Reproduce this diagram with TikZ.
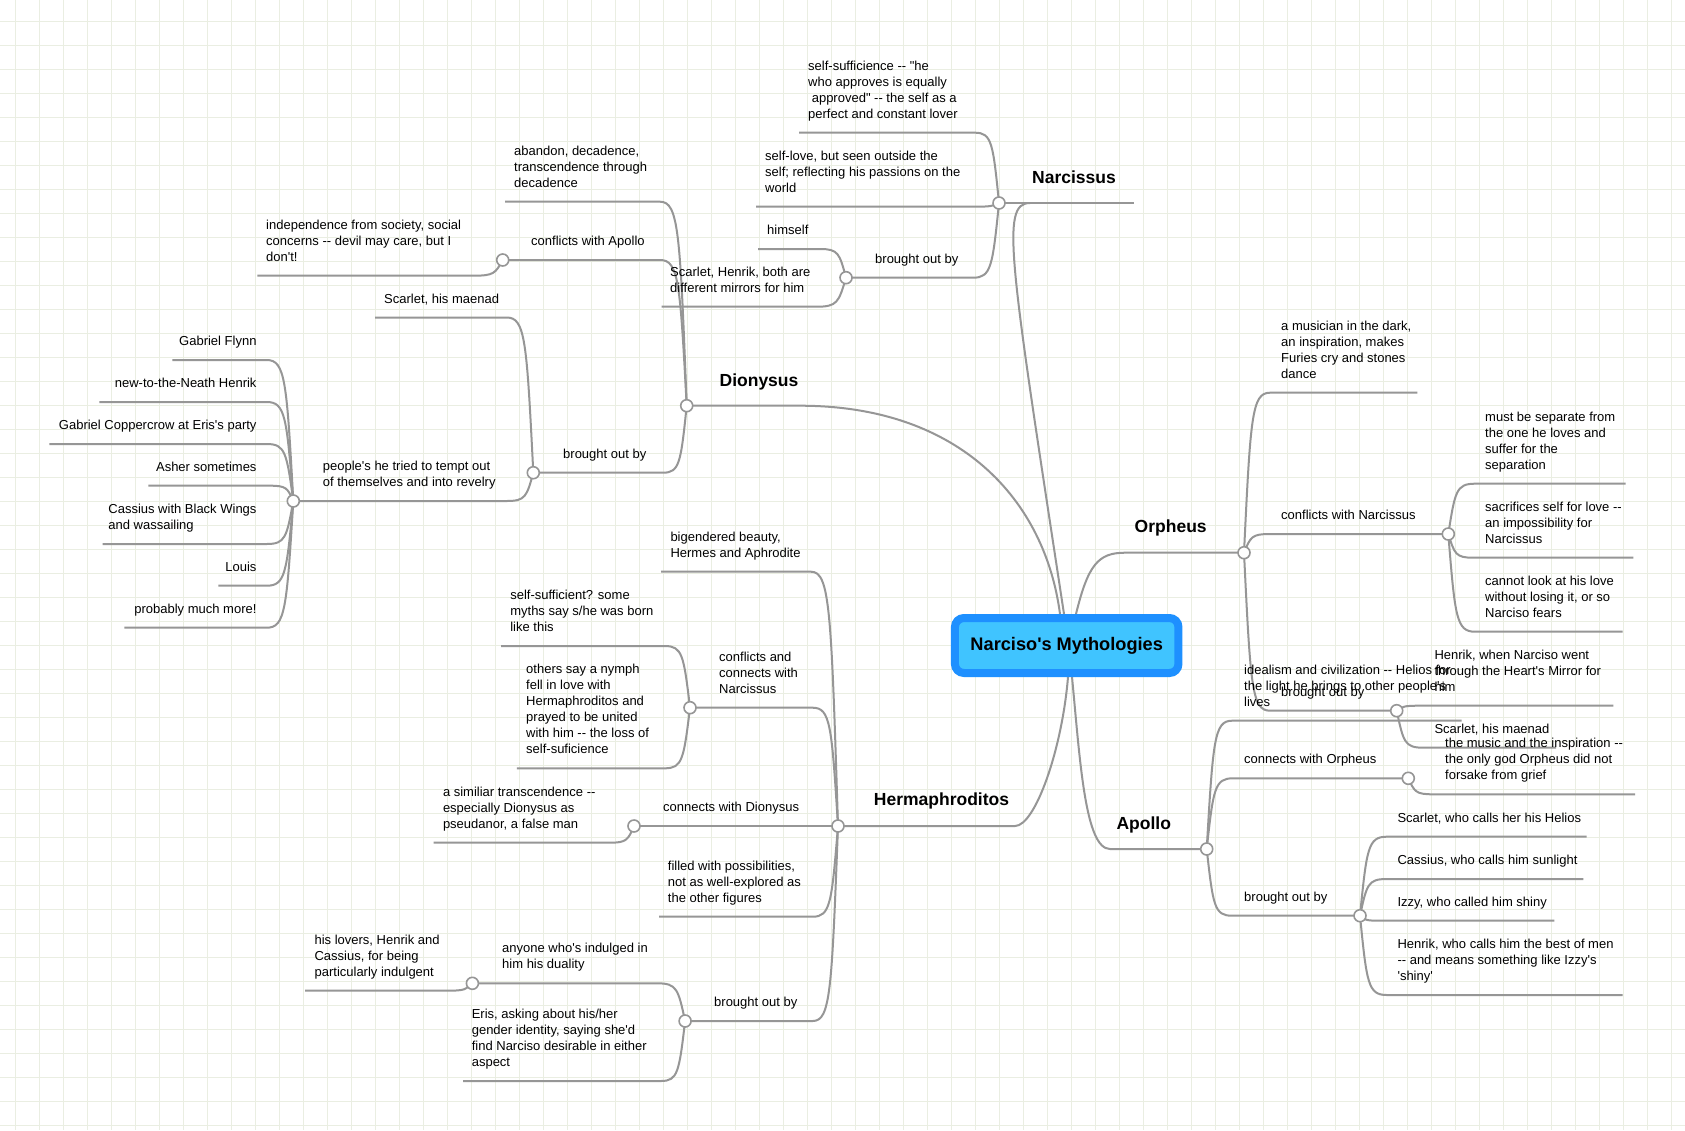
\documentclass[tikz,border=0pt]{standalone}
\usepackage{fontspec}
\newfontfamily\bodyf{Liberation Sans}
\usetikzlibrary{calc}
\definecolor{gridc}{RGB}{234,238,226}
\definecolor{lc}{RGB}{150,150,150}
\definecolor{cOut}{RGB}{30,144,255}
\definecolor{cIn}{RGB}{64,196,255}
\newcommand\fs{\bodyf\fontsize{13}{16}\selectfont}
\newcommand\tfont{\bodyf\bfseries\fontsize{17.5}{20}\selectfont}
\newcommand\cfont{\bodyf\bfseries\fontsize{18.2}{22}\selectfont}
\newcommand\Tx[4]{\node[tx] (#1) at (#2,#3) {\begin{tabular}[t]{@{}l@{}}#4\end{tabular}};}
\newcommand\Tr[4]{\node[txr] (#1) at (#2,#3) {\begin{tabular}[t]{@{}l@{}}#4\end{tabular}};}
\newcommand\Cn[4]{\draw[ln] (#1) to[br] (#2,#3) -- (#4);}
\tikzset{
  ln/.style={draw=lc, line width=2pt},
  br/.style={to path={let \p1=(\tikztostart), \p2=(\tikztotarget) in
     .. controls ({\x1+0.25*(\x2-\x1)},{\y2-0.15*(\y2-\y1)}) and ({\x1+0.3*(\x2-\x1)},\y2) .. (\tikztotarget)}},
  dot/.style={circle, draw=lc, fill=white, line width=1.6pt, minimum size=12pt, inner sep=0pt},
  tx/.style={anchor=base west, inner sep=0pt, font=\fs},
  txr/.style={anchor=base east, inner sep=0pt, font=\fs},
  ttl/.style={anchor=base, inner sep=0pt, font=\tfont},
}
\begin{document}
\begin{tikzpicture}[x=1pt,y=-1pt]
\useasboundingbox[fill=white] (0,0) rectangle (1685,1130);
\foreach \gx in {15,39,...,1685} \draw[gridc, line width=1pt] (\gx,0) -- (\gx,1130);
\foreach \gy in {21,45,...,1130} \draw[gridc, line width=1pt] (0,\gy) -- (1685,\gy);

% hubs
\coordinate (N) at (999,203);
\coordinate (NB) at (846,277.7);
\coordinate (D) at (686.7,405.7);
\coordinate (CA) at (502.7,260);
\coordinate (B) at (533.3,472.7);
\coordinate (P) at (293.3,501);
\coordinate (H) at (838,826);
\coordinate (C) at (690,707.7);
\coordinate (CD) at (634,826);
\coordinate (BB) at (685.1,1021);
\coordinate (A) at (472.4,983.3);
\coordinate (O) at (1244,552.7);
\coordinate (CN) at (1448.3,534);
\coordinate (OB) at (1396.7,710.7);
\coordinate (AP) at (1206.7,849);
\coordinate (CO) at (1408.3,778.3);
\coordinate (AB) at (1360,915.7);
\coordinate (rtN) at (1064,614);
\coordinate (rtD) at (1060,614);
\coordinate (rtO) at (1076,614);
\coordinate (rbH) at (1068,677);
\coordinate (rbA) at (1072,677);
\coordinate (NEnd) at (1134,203);

% main branches
\draw[ln] (rtN) .. controls (1010,260) and (1000,203) .. (1030,203);
\draw[ln] (N) -- (NEnd);
\draw[ln] (rtD) .. controls (1045,500) and (960,405.7) .. (800,405.7) -- (D);
\draw[ln] (rtO) .. controls (1088,565) and (1098,552.7) .. (1125,552.7) -- (O);
\draw[ln] (rbH) .. controls (1062,750) and (1035,826) .. (1015,826) -- (H);
\draw[ln] (rbA) .. controls (1080,760) and (1085,849) .. (1110,849) -- (AP);

% Narcissus
\coordinate (n1) at (799,132.7); \Cn{N}{975}{132.7}{n1}
\coordinate (n2) at (756,206.7); \Cn{N}{973}{206.7}{n2}
\Cn{N}{973}{277.7}{NB}
\coordinate (nb1) at (758,249); \Cn{NB}{820}{249}{nb1}
\coordinate (nb2) at (661.7,306.7); \Cn{NB}{816.7}{306.7}{nb2}

% Dionysus
\coordinate (d1) at (505,201.7); \Cn{D}{660}{201.7}{d1}
\Cn{D}{660}{260}{CA}
\Cn{D}{663}{472.7}{B}
\coordinate (ca1) at (257.3,275.7); \Cn{CA}{473.3}{275.7}{ca1}
\coordinate (b1) at (375,317.5); \Cn{B}{506.7}{317.5}{b1}
\Cn{B}{506.7}{501}{P}
\coordinate (p1) at (172.3,360); \Cn{P}{266.7}{360}{p1}
\coordinate (p2) at (99.3,402); \Cn{P}{266.7}{402}{p2}
\coordinate (p3) at (49.3,444); \Cn{P}{266.7}{444}{p3}
\coordinate (p4) at (148.3,485.7); \Cn{P}{270}{485.7}{p4}
\coordinate (p5) at (102.7,544); \Cn{P}{266.7}{544}{p5}
\coordinate (p6) at (218.3,585.7); \Cn{P}{266.7}{585.7}{p6}
\coordinate (p7) at (124.3,627.7); \Cn{P}{266.7}{627.7}{p7}

% Hermaphroditos
\coordinate (h1) at (661,571.7); \Cn{H}{811}{571.7}{h1}
\Cn{H}{812.7}{707.7}{C}
\draw[ln] (H) -- (CD);
\coordinate (h2) at (659.2,916.7); \Cn{H}{812.7}{916.7}{h2}
\Cn{H}{812.7}{1021}{BB}
\coordinate (c1) at (501.2,646); \Cn{C}{664.8}{646}{c1}
\coordinate (c2) at (516.8,768.3); \Cn{C}{664.8}{768.3}{c2}
\coordinate (cd1) at (433.5,842.7); \Cn{CD}{609.3}{842.7}{cd1}
\Cn{BB}{657.4}{983.3}{A}
\coordinate (bb1) at (463.1,1081); \Cn{BB}{661}{1081}{bb1}
\coordinate (a1) at (305.2,990.7); \Cn{A}{446.5}{990.7}{a1}

% Orpheus
\coordinate (o1) at (1417.3,392.7); \Cn{O}{1270}{392.7}{o1}
\Cn{O}{1270}{534}{CN}
\Cn{O}{1270}{710.7}{OB}
\coordinate (cn1) at (1625.7,483.7); \Cn{CN}{1475}{483.7}{cn1}
\coordinate (cn2) at (1633.3,557.7); \Cn{CN}{1473.3}{557.7}{cn2}
\coordinate (cn3) at (1622.7,631.7); \Cn{CN}{1475}{631.7}{cn3}
\coordinate (ob1) at (1613.3,705.7); \Cn{OB}{1420}{705.7}{ob1}
\coordinate (ob2) at (1556,747.7); \Cn{OB}{1423.3}{747.7}{ob2}

% Apollo
\coordinate (ap1) at (1461.7,720.7); \Cn{AP}{1232}{720.7}{ap1}
\Cn{AP}{1233}{778.3}{CO}
\Cn{AP}{1232}{915.7}{AB}
\coordinate (co1) at (1635,794.3); \Cn{CO}{1433.3}{794.3}{co1}
\coordinate (ab1) at (1586.7,836.7); \Cn{AB}{1386.7}{836.7}{ab1}
\coordinate (ab2) at (1583.3,879); \Cn{AB}{1386.7}{879}{ab2}
\coordinate (ab3) at (1554.3,920.7); \Cn{AB}{1380}{920.7}{ab3}
\coordinate (ab4) at (1622.6,995); \Cn{AB}{1386.7}{995}{ab4}

% connector dots
\foreach \c in {N,NB,D,CA,B,P,H,C,CD,BB,A,O,CN,OB,AP,CO,AB} \node[dot] (\c-dot) at (\c) {};

% central topic
\node[draw=cOut, fill=cIn, line width=8pt, rounded corners=9pt, minimum width=223.5pt, minimum height=55pt, inner sep=0pt, font=\cfont] (root) at (1066.7,645.5) {Narciso's Mythologies};

% titles
\node[ttl] (tN) at (1074,183) {Narcissus};
\node[ttl] (tD) at (759,386) {Dionysus};
\node[ttl] (tO) at (1170.7,532.7) {Orpheus};
\node[ttl] (tA) at (1143.7,829) {Apollo};
\node[ttl] (tH) at (941.5,805.5) {Hermaphroditos};

% Narcissus texts
\Tx{xn1}{808}{70.2}{self-sufficience -{}- "he\\who approves is equally\\\hspace*{3.6pt}approved" -{}- the self as a\\perfect and constant lover}
\Tx{xn2}{765}{160.2}{self-love, but seen outside the\\self; reflecting his passions on the\\world}
\Tx{xnb}{875}{263.2}{brought out by}
\Tx{xnb1}{767}{234.5}{himself}
\Tx{xnb2}{670}{276.2}{Scarlet, Henrik, both are\\different mirrors for him}

% Dionysus texts
\Tx{xd1}{514}{155.2}{abandon, decadence,\\transcendence through\\decadence}
\Tx{xca}{531}{245.5}{conflicts with Apollo}
\Tx{xbo}{563}{458.2}{brought out by}
\Tx{xca1}{266}{229.2}{independence from society, social\\concerns -{}- devil may care, but I\\don't!}
\Tx{xb1}{384}{303}{Scarlet, his maenad}
\Tx{xb2}{322.7}{470.5}{people's he tried to tempt out\\of themselves and into revelry}
\Tr{xp1}{256.7}{345.5}{Gabriel Flynn}
\Tr{xp2}{256.7}{387.5}{new-to-the-Neath Henrik}
\Tr{xp3}{256.7}{429.5}{Gabriel Coppercrow at Eris's party}
\Tr{xp4}{256.7}{471.2}{Asher sometimes}
\Tr{xp5}{256.7}{513.5}{Cassius with Black Wings\\and wassailing}
\Tr{xp6}{256.7}{571.2}{Louis}
\Tr{xp7}{256.7}{613.2}{probably much more!}

% Hermaphroditos texts
\Tx{xh1}{670.3}{541.2}{bigendered beauty,\\Hermes and Aphrodite}
\Tx{xh2}{719}{661.2}{conflicts and\\connects with\\Narcissus}
\Tx{xh3}{663}{811.5}{connects with Dionysus}
\Tx{xh4}{667.7}{870.2}{filled with possibilities,\\not as well-explored as\\the other figures}
\Tx{xh5}{714}{1006.5}{brought out by}
\Tx{xc1}{510.1}{599.5}{self-sufficient? some\\myths say s/he was born\\like this}
\Tx{xc2}{526}{673.8}{others say a nymph\\fell in love with\\Hermaphroditos and\\prayed to be united\\with him -{}- the loss of\\self-suficience}
\Tx{xcd1}{442.8}{796.2}{a similiar transcendence -{}-\\especially Dionysus as\\pseudanor, a false man}
\Tx{xbb1}{502}{952.8}{anyone who's indulged in\\him his duality}
\Tx{xbb2}{471.6}{1018.5}{Eris, asking about his/her\\gender identity, saying she'd\\find Narciso desirable in either\\aspect}
\Tx{xa1}{314.4}{944.2}{his lovers, Henrik and\\Cassius, for being\\particularly indulgent}

% Orpheus texts
\Tx{xo1}{1281}{330.2}{a musician in the dark,\\an inspiration, makes\\Furies cry and stones\\dance}
\Tx{xo2}{1281}{519.5}{conflicts with Narcissus}
\Tx{xo3}{1281}{696.2}{brought out by}
\Tx{xcn1}{1485}{421.2}{must be separate from\\the one he loves and\\suffer for the\\separation}
\Tx{xcn2}{1485}{511.2}{sacrifices self for love -{}-\\an impossibility for\\Narcissus}
\Tx{xcn3}{1485}{585.2}{cannot look at his love\\without losing it, or so\\Narciso fears}
\Tx{xob1}{1434.3}{659.2}{Henrik, when Narciso went\\through the Heart's Mirror for\\him}
\Tx{xob2}{1434.3}{733.2}{Scarlet, his maenad}

% Apollo texts
\Tx{xap1}{1244}{674.2}{idealism and civilization -{}- Helios for\\the light he brings to other people's\\lives}
\Tx{xap2}{1244}{763.8}{connects with Orpheus}
\Tx{xap3}{1244}{901.2}{brought out by}
\Tx{xco1}{1445}{747.8}{the music and the inspiration -{}-\\the only god Orpheus did not\\forsake from grief}
\Tx{xab1}{1397.3}{822.2}{Scarlet, who calls her his Helios}
\Tx{xab2}{1397.3}{864.5}{Cassius, who calls him sunlight}
\Tx{xab3}{1397.3}{906.2}{Izzy, who called him shiny}
\Tx{xab4}{1397.3}{948.5}{Henrik, who calls him the best of men\\-{}- and means something like Izzy's\\'shiny'}
\end{tikzpicture}
\end{document}
